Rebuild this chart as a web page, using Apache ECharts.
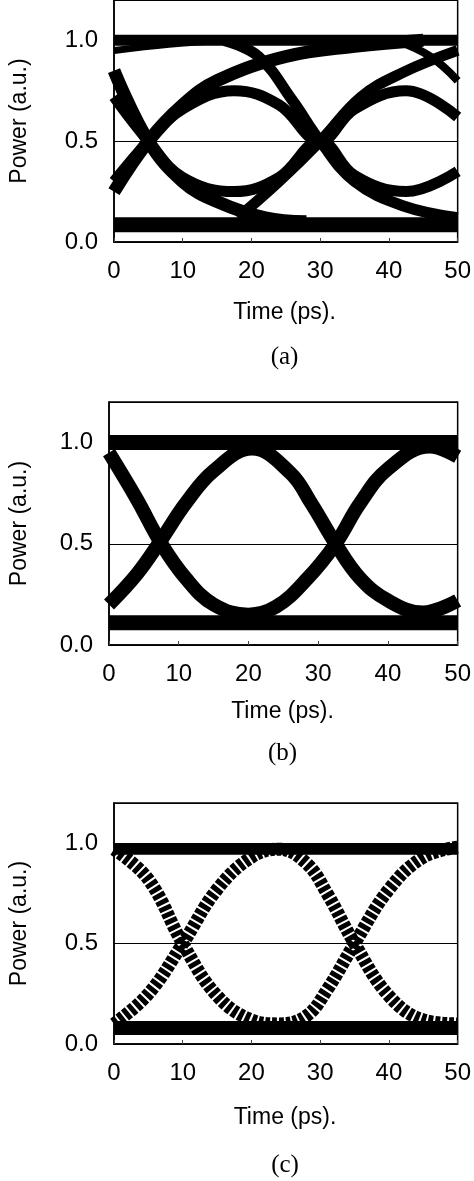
<!DOCTYPE html>
<html><head><meta charset="utf-8">
<script src="https://cdn.jsdelivr.net/npm/echarts@6/dist/echarts.min.js"></script>
<style>html,body{margin:0;padding:0;background:#fff}#c{width:474px;height:1181px}</style>
</head><body><div id="c"></div>
<script>
// Panel (a) traces: [time ps, power a.u.]
const aTop = [[0,1.0],[25,1.0],[50,1.0]];
const aBottom = [[0,0.085],[25,0.085],[50,0.085]];
const aTopEdge = [[0,0.95],[8,0.98],[16,1.0]];
const aEyeUpper = [[0,0.3],[5,0.5],[10,0.66],[17.5,0.75],[24,0.68],[30,0.5],[35,0.66],[42.5,0.75],[50,0.62]];
const aEyeLower = [[0,0.72],[5,0.5],[10,0.32],[17.5,0.25],[24,0.32],[30,0.5],[35,0.33],[42.5,0.25],[50,0.35]];
const aRiseLong1 = [[0,0.25],[5,0.5],[10,0.68],[15,0.8],[25,0.92],[35,0.97],[45,1.0]];
const aRiseLong2 = [[18,0.12],[24,0.3],[30,0.5],[36,0.72],[42,0.84],[50,0.95]];
const aFallLong1 = [[0,0.85],[5,0.5],[10,0.3],[15,0.2],[22,0.12],[28,0.1]];
const aFallLong2 = [[16,1.0],[21,0.92],[26,0.7],[30,0.5],[35,0.3],[42,0.18],[50,0.12]];
const aFallEnd = [[41,1.0],[46,0.92],[50,0.8]];
// Panel (b)
const bTop = [[0,1.0],[25,1.0],[50,1.0]];
const bBottom = [[0,0.11],[25,0.11],[50,0.11]];
const bRise = [[0,0.2],[4,0.35],[7.5,0.52],[11,0.7],[15,0.86],[20.5,0.97],[26,0.85],[29,0.7],[32.5,0.5],[36,0.33],[40,0.22],[45,0.16],[50,0.22]];
const bFall = [[0,0.95],[4,0.72],[7.5,0.5],[11,0.33],[15,0.2],[20,0.15],[24,0.19],[28.5,0.33],[32.5,0.5],[36,0.7],[40,0.87],[46,0.98],[50,0.93]];
// Panel (c)
const cTop = [[0,0.97],[25,0.97],[50,0.97]];
const cBottom = [[0,0.08],[25,0.08],[50,0.08]];
const cRise = [[0,0.1],[5,0.25],[10,0.5],[15,0.77],[20,0.93],[24,0.97],[28,0.9],[31,0.75],[35,0.5],[40,0.24],[45,0.12],[50,0.1]];
const cFall = [[0,0.97],[5,0.82],[10,0.5],[15,0.24],[20,0.12],[24,0.1],[28,0.14],[31,0.27],[35,0.5],[40,0.77],[45,0.93],[50,0.98]];
const xTicks = [0,10,20,30,40,50];
const yTicks = [0,0.5,1.0];

const grids = [
  {left:110,width:349,top:-12,height:254},
  {left:105,width:355,top:402,height:243},
  {left:110,width:350,top:803,height:241}
];
const chart = echarts.init(document.getElementById('c'));
const font = 'Liberation Sans, Arial, sans-serif';
const xAxes = grids.map((g,i)=>({type:'value',gridIndex:i,min:0,max:50,interval:10,
  axisLine:{lineStyle:{color:'#000',width:1.5}},axisTick:{inside:true,length:4,lineStyle:{color:'#444'}},
  splitLine:{show:false},axisLabel:{color:'#000',fontSize:24,fontFamily:font,margin:17,
  formatter:v=>xTicks.includes(v)?String(v):''}}));
const yAxes = grids.map((g,i)=>({type:'value',gridIndex:i,min:0,max:1.2,interval:0.5,
  name:'Power (a.u.)',nameLocation:'middle',nameGap:i===1?78:83,nameRotate:90,
  nameTextStyle:{color:'#000',fontSize:23,fontFamily:font},
  axisLine:{lineStyle:{color:'#000',width:1.5}},axisTick:{show:false},
  splitLine:{lineStyle:{color:'#000',width:1}},
  axisLabel:{color:'#000',fontSize:24,fontFamily:font,margin:16,
  formatter:v=>yTicks.some(t=>Math.abs(t-v)<1e-6)?v.toFixed(1):''}}));
function s(data,gi,w,dash){return {type:'line',xAxisIndex:gi,yAxisIndex:gi,data:data,smooth:0.4,symbol:'none',
  lineStyle:{color:'#000',width:w,type:dash||'solid'},silent:true,z:3};}
const series = [
  s(aTop,0,11),s(aBottom,0,15),s(aTopEdge,0,7),s(aEyeUpper,0,11),s(aEyeLower,0,11),
  s(aRiseLong1,0,13),s(aRiseLong2,0,11),s(aFallLong1,0,13),s(aFallLong2,0,11),s(aFallEnd,0,8),
  s(bTop,1,15),s(bBottom,1,15),s(bRise,1,14),s(bFall,1,14),
  s(cTop,2,11),s(cBottom,2,14),s(cRise,2,13,[5,2]),s(cFall,2,13,[5,2])
];
const titles = [['Time (ps).',313,'(a)',357],['Time (ps).',712,'(b)',753],['Time (ps).',1118,'(c)',1165]];
const graphic = [];
titles.forEach((t,i)=>{
  const cx = grids[i].left + grids[i].width/2;
  graphic.push({type:'text',x:cx,y:t[1],style:{text:t[0],fill:'#000',font:'23px '+font,align:'center',verticalAlign:'middle'}});
  graphic.push({type:'text',x:cx,y:t[3],style:{text:t[2],fill:'#000',font:'25px "Liberation Serif", serif',align:'center',verticalAlign:'middle'}});
});
chart.setOption({animation:false,
  grid:grids.map(g=>Object.assign({show:true,borderColor:'#000',borderWidth:1.5,backgroundColor:'#fff'},g)),
  xAxis:xAxes,yAxis:yAxes,series:series,graphic:graphic});
</script></body></html>
